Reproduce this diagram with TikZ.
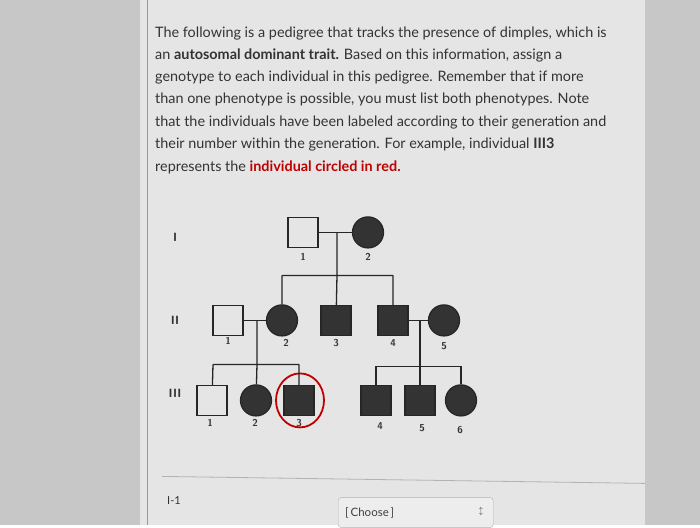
\documentclass[tikz,border=0pt]{standalone}
\usepackage{fontspec}
\setmainfont{Lato}
\begin{document}
\begin{tikzpicture}[x=1pt,y=-1pt,
  txt/.style={anchor=base west,inner sep=0,font=\fontsize{14.4}{16}\selectfont,text=black!80},
  sq/.style={draw=black!85,line width=1.3pt,minimum size=30pt,inner sep=0},
  sqf/.style={sq,fill=black!80},
  cf/.style={circle,draw=black!85,fill=black!80,line width=1.3pt,minimum size=31pt,inner sep=0},
  num/.style={font=\sffamily\bfseries\fontsize{10}{11}\selectfont,text=black!80},
  gen/.style={font=\sffamily\bfseries\fontsize{12}{13}\selectfont,text=black!80},
  ln/.style={line width=1.3pt,draw=black!85}]
\fill[black!22] (0,0) rectangle (700,525);
\fill[black!10] (140,0) rectangle (645,525);
\draw[black!40,line width=0.8pt] (147,0) -- (147,525);
\node[txt] at (155,37) {The following is a pedigree that tracks the presence of dimples, which is};
\node[txt] at (155,59) {an \textbf{autosomal dominant trait.} Based on this information, assign a};
\node[txt] at (155,81) {genotype to each individual in this pedigree. Remember that if more};
\node[txt] at (155,103) {than one phenotype is possible, you must list both phenotypes. Note};
\node[txt] at (155,126) {that the individuals have been labeled according to their generation and};
\node[txt] at (155,148) {their number within the generation. For example, individual \textbf{III3}};
\node[txt] at (155,171) {represents the \textcolor{red!75!black}{\textbf{individual circled in red.}}};
% generation labels
\node[gen] (gI) at (175,237) {I};
\node[gen] (gII) at (175,320) {II};
\node[gen] (gIII) at (175,393) {III};
% gen I
\node[sq] (a1) at (303,232) {};
\node[cf] (a2) at (368,232) {};
\coordinate (m1) at (337,232);
\coordinate (s1) at (337,275);
\coordinate (s1l) at (282,275);
\coordinate (s1r) at (393,275);
% gen II
\node[sq] (b1) at (228,320) {};
\node[cf] (b2) at (282,320) {};
\node[sqf] (b3) at (336,320) {};
\node[sqf] (b4) at (393,320) {};
\node[cf] (b5) at (444,320) {};
\coordinate (m2) at (257,320);
\coordinate (s2) at (257,364);
\coordinate (s2l) at (213,364);
\coordinate (s2r) at (299,364);
\coordinate (m3) at (420,320);
\coordinate (s3) at (420,366);
\coordinate (s3l) at (376,366);
\coordinate (s3r) at (461,366);
% gen III
\node[sq] (c1) at (212,400) {};
\node[cf] (c2) at (256,400) {};
\node[sqf] (c3) at (299,400) {};
\node[sqf] (c4) at (376,400) {};
\node[sqf] (c5) at (420,400) {};
\node[cf] (c6) at (461,400) {};
\draw[red!75!black,line width=1.8pt] (300,400) ellipse (24 and 27);
% lines
\draw[ln] (a1) -- (a2);
\draw[ln] (m1) -- (s1) (s1l) -- (s1r) (s1l) -- (b2) (s1) -- (b3) (s1r) -- (b4);
\draw[ln] (b1) -- (b2) (b4) -- (b5);
\draw[ln] (m2) -- (s2) (s2l) -- (s2r) (s2l) -- (c1) (s2) -- (c2) (s2r) -- (c3);
\draw[ln] (m3) -- (s3) (s3l) -- (s3r) (s3l) -- (c4) (s3) -- (c5) (s3r) -- (c6);
% numbers
\foreach \n/\x/\y/\t in {n1/303/257/1,n2/368/257/2,n3/228/341/1,n4/286/343/2,n5/336/343/3,n6/393/343/4,n7/444/346/5,n8/210/423/1,n9/255/423/2,n10/299/423/3,n11/380/426/4,n12/422/428/5,n13/460/430/6}
  \node[num] (\n) at (\x,\y) {\t};
% bottom
\draw[black!30,line width=0.8pt] (162,476) -- (645,483);
\node[txt,font=\fontsize{11}{13}\selectfont] (lab) at (167,504) {I-1};
\node[draw=black!30,fill=black!7,rounded corners=3pt,minimum width=155pt,minimum height=30pt,anchor=north west] (box) at (338,497) {};
\node[anchor=base west,inner sep=0,font=\fontsize{11.5}{13}\selectfont,text=black!75] (ch) at (345,516) {[\,Choose\,]};
\node[font=\fontsize{8}{8}\selectfont,text=black!75] (ar) at (481,511) {$\updownarrow$};
\end{tikzpicture}
\end{document}
